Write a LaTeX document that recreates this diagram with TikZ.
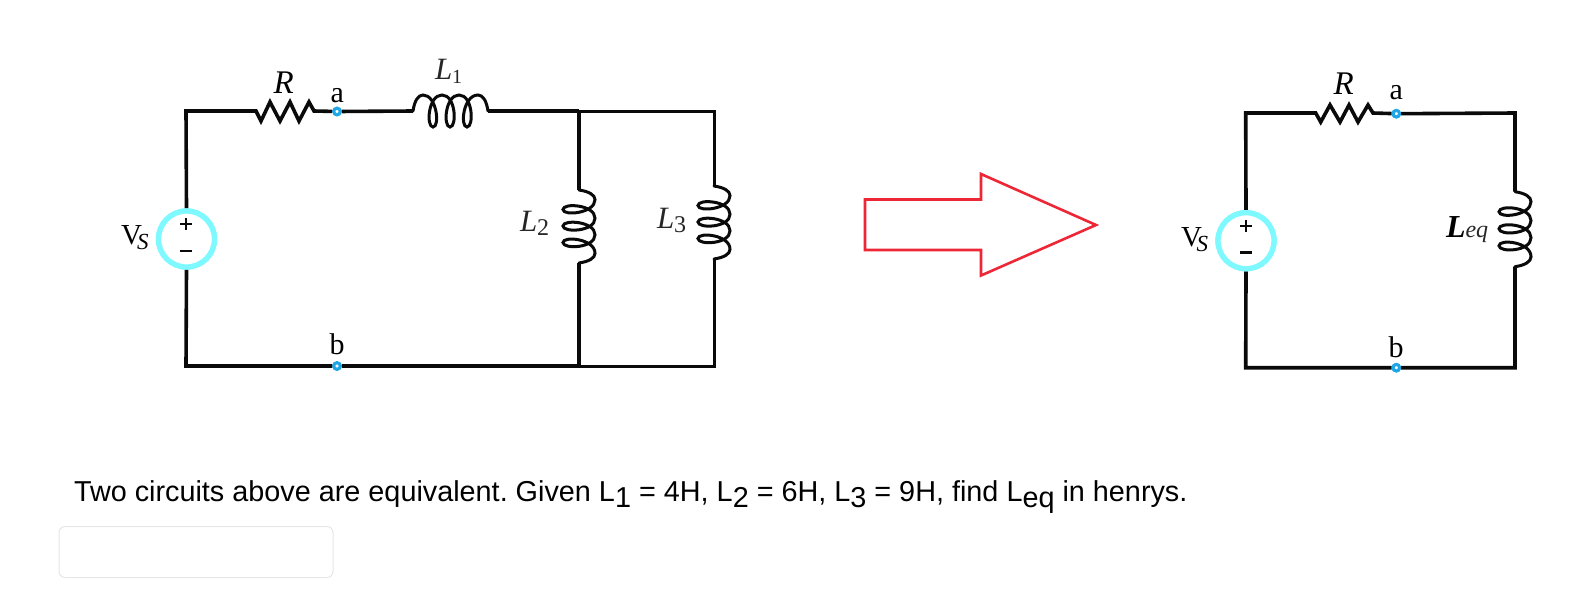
\documentclass[tikz,border=0pt]{standalone}
\usepackage{fontspec}
\setmainfont{Liberation Serif}
\newfontfamily\arialfont{Liberation Sans}
\definecolor{wirecol}{HTML}{0A0A0A}
\definecolor{ringcol}{HTML}{7DF9FF}
\definecolor{dotcol}{HTML}{1FA6E6}
\definecolor{arrowcol}{HTML}{EE2737}
\definecolor{boxcol}{HTML}{E6E6E6}
\newcommand{\fs}[1]{\fontsize{#1}{#1}\selectfont}
\newcommand{\sbs}[1]{\raisebox{-6pt}{#1}}
\tikzset{
  wire/.style={draw=wirecol,line width=3.6pt,line join=miter},
  thinwire/.style={draw=wirecol,line width=3pt,line join=miter},
  source/.style={circle,draw=ringcol,line width=5.3pt,minimum size=56pt,inner sep=0pt,fill=white},
  terminal/.style={circle,draw=dotcol,fill=white,line width=3pt,minimum size=6.5pt,inner sep=0pt},
  lab/.style={inner sep=0pt,outer sep=0pt,anchor=base west,text=black,font=\fs{30}},
  coil/.pic={
    \draw[line width=3pt,draw=wirecol,line cap=round]
      (0,0) .. controls (1.5,-10) and (5,-16) .. (10,-16)
      .. controls (24,-16) and (27,16) .. (20,16)
      .. controls (13,16) and (15,-16) .. (29,-16)
      .. controls (43,-16) and (44,16) .. (37,16)
      .. controls (30,16) and (32,-16) .. (46,-16)
      .. controls (60,-16) and (61,16) .. (54,16)
      .. controls (47,16) and (50,-16) .. (65,-16)
      .. controls (70,-16) and (73.5,-10) .. (75,0);
  }
}
\begin{document}
\begin{tikzpicture}[x=1pt,y=-1pt]
\useasboundingbox (0,0) rectangle (1584,606);
% ---------- left circuit
\coordinate (tl) at (186,111);
\coordinate (bl) at (186,366);
\coordinate (ra) at (256,111);
\coordinate (rb) at (314,111);
\coordinate (laa) at (413,111);
\coordinate (lab) at (488,111);
\coordinate (tm) at (579,111);
\coordinate (bm) at (579,366);
\coordinate (tr) at (714,111);
\coordinate (br) at (714,366);
\coordinate (lba) at (579,190);
\coordinate (lbb) at (579,263);
\coordinate (lca) at (714,186);
\coordinate (lcb) at (714,259);
\node[terminal] (a1) at (337,111.5) {};
\node[terminal] (b1) at (337,366) {};
\node[source] (vs1) at (186.5,239) {};
\draw[wire] (vs1.north) -- (tl) -- (ra) -- (261,121) -- (270,102) -- (280,121) -- (290,102) -- (299,121) -- (309,102) -- (rb) -- (a1);
\draw[wire] (a1) -- (laa);
\draw[wire] (lab) -- (tm);
\draw[thinwire] (tm) -- (tr) -- (lca);
\draw[thinwire] (lcb) -- (br) -- (bm);
\draw[wire] (tm) -- (lba);
\draw[wire] (lbb) -- (bm);
\draw[wire] (bm) -- (b1) -- (bl) -- (vs1.south);
\pic at (laa) {coil};
\pic[rotate=-90,xscale=0.973] at (lba) {coil};
\pic[rotate=-90,xscale=0.973] at (lca) {coil};
\node[source] at (vs1) {};
\node[terminal] at (a1) {};
\node[terminal] at (b1) {};
\draw[line width=1.6pt,draw=wirecol] (180,224) -- (192,224) (186,218) -- (186,230);
\draw[line width=2.8pt,draw=wirecol] (180,251) -- (192,251);
\node[lab,font=\fs{29}] (vl1) at (121,244) {V};
\node[lab,font=\fs{23}\itshape] (sl1) at (137,249) {S};
\node[lab,font=\fs{33}\itshape] (rl1) at (273.5,93) {R};
\node[lab] (al1) at (330.5,102) {a};
\node[lab,anchor=base] (bl1) at (337,354) {b};
\node[lab,font=\fs{31}\itshape,text=black!85] (ll1) at (435,79) {L\raisebox{-4pt}{\fs{20}\upshape 1}};
\node[lab,font=\fs{31}\itshape,text=black!85] (ll2) at (520,231) {L\raisebox{-4pt}{\fs{24}\upshape 2}};
\node[lab,font=\fs{31}\itshape,text=black!85] (ll3) at (657,228) {L\raisebox{-4pt}{\fs{24}\upshape 3}};
% ---------- arrow
\draw[draw=arrowcol,line width=2.6pt,line join=miter]
  (865,199.5) -- (981,199.5) -- (981,174) -- (1096,225) -- (981,275.5) -- (981,250) -- (865,250) -- cycle;
% ---------- right circuit
\coordinate (tl2) at (1245.7,113);
\coordinate (bl2) at (1245.7,367.7);
\coordinate (ra2) at (1315.7,113);
\coordinate (rb2) at (1373,113);
\coordinate (tr2) at (1515,113);
\coordinate (br2) at (1515,367.7);
\coordinate (lqa) at (1515,191.7);
\coordinate (lqb) at (1515,266.7);
\node[terminal] (a2) at (1396.3,113.7) {};
\node[terminal] (b2) at (1396.3,367.7) {};
\node[source] (vs2) at (1246,240.7) {};
\draw[wire] (vs2.north) -- (tl2) -- (ra2) -- (1320.7,122) -- (1330,105) -- (1340,122) -- (1349,105) -- (1358,122) -- (1368,105) -- (rb2) -- (a2);
\draw[wire] (a2) -- (tr2) -- (lqa);
\draw[wire] (lqb) -- (br2) -- (b2) -- (bl2) -- (vs2.south);
\pic[rotate=-90] at (lqa) {coil};
\node[source] at (vs2) {};
\node[terminal] at (a2) {};
\node[terminal] at (b2) {};
\draw[line width=1.6pt,draw=wirecol] (1240,226) -- (1252,226) (1246,220) -- (1246,232);
\draw[line width=2.8pt,draw=wirecol] (1240,252.5) -- (1252,252.5);
\node[lab,font=\fs{29}] (vl2) at (1181,246.5) {V};
\node[lab,font=\fs{23}\itshape] (sl2) at (1196.5,251) {S};
\node[lab,font=\fs{33}\itshape] (rl2) at (1333.5,94) {R};
\node[lab] (al2) at (1389.5,99.5) {a};
\node[lab,anchor=base] (bl2l) at (1396,357.5) {b};
\node[lab,font=\fs{32}\bfseries\itshape] (lq) at (1446,237) {L};
\node[lab,font=\fs{24}\itshape,text=black!85] (eq) at (1465.5,237) {eq};
% ---------- question
\node[lab,font=\arialfont\fs{28.8}\frenchspacing] (q) at (74,501.7)
  {Two circuits above are equivalent. Given L\sbs{1} = 4H, L\sbs{2} = 6H, L\sbs{3} = 9H, find L\sbs{eq} in henrys.};
\node[draw=boxcol,line width=1pt,rounded corners=6pt,minimum width=274pt,minimum height=51pt,inner sep=0pt,anchor=north west] (ans) at (58.5,526) {};
\end{tikzpicture}
\end{document}
